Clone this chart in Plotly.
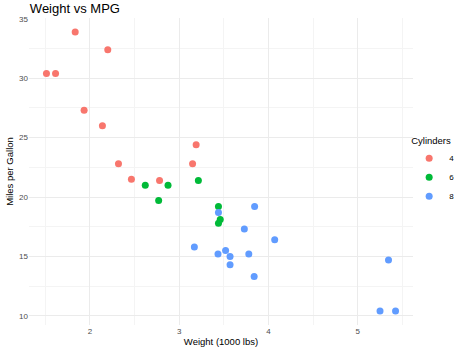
import plotly.graph_objects as go

# mtcars: weight (1000 lbs) and mpg by cylinders
wt_4 = [2.32, 3.19, 3.15, 2.2, 1.615, 1.835, 2.465, 1.935, 2.14, 1.513, 2.78]
mpg_4 = [22.8, 24.4, 22.8, 32.4, 30.4, 33.9, 21.5, 27.3, 26.0, 30.4, 21.4]
wt_6 = [2.62, 2.875, 3.215, 3.46, 3.44, 3.44, 2.77]
mpg_6 = [21.0, 21.0, 21.4, 18.1, 19.2, 17.8, 19.7]
wt_8 = [3.44, 3.57, 4.07, 3.73, 3.78, 5.25, 5.424, 5.345, 3.52, 3.435, 3.84, 3.845, 3.17, 3.57]
mpg_8 = [18.7, 14.3, 16.4, 17.3, 15.2, 10.4, 10.4, 14.7, 15.5, 15.2, 13.3, 19.2, 15.8, 15.0]

groups = [("4", wt_4, mpg_4, "#F8766D"), ("6", wt_6, mpg_6, "#00BA38"), ("8", wt_8, mpg_8, "#619CFF")]

FONT = "Liberation Sans, Arial, sans-serif"
fig = go.Figure()
for name, x, y, c in groups:
    fig.add_trace(go.Scatter(x=x, y=y, mode="markers", name=name,
                             marker=dict(color=c, size=7, line=dict(width=0))))

grid = "#ebebeb"
fig.update_layout(
    width=474, height=353,
    margin=dict(l=29, r=61, t=18, b=28, autoexpand=False),
    paper_bgcolor="white", plot_bgcolor="white",
    font=dict(family=FONT, color="#000000"),
    title=dict(text="Weight vs MPG", x=0.063, xanchor="left", y=0.977, yanchor="middle",
               font=dict(size=13, color="#000000", family=FONT)),
    legend=dict(title=dict(text="Cylinders", font=dict(size=9.5, color="#000000")),
                font=dict(size=8, color="#000000"),
                x=0.99, xanchor="left", y=0.50, yanchor="middle",
                itemwidth=30, bgcolor="rgba(0,0,0,0)"),
    showlegend=True,
)
fig.update_xaxes(range=[1.3175, 5.6195], tickvals=[2, 3, 4, 5], showgrid=True, gridcolor=grid, gridwidth=1,
                 minor=dict(tickvals=[1.5, 2.5, 3.5, 4.5, 5.5], showgrid=True, gridcolor="#f4f4f4", gridwidth=0.6),
                 zeroline=False, showline=False, ticks="",
                 tickfont=dict(size=8, color="#4d4d4d"),
                 title=dict(text="Weight (1000 lbs)", font=dict(size=9.5, color="#000000"), standoff=3))
fig.update_yaxes(range=[9.225, 35.075], tickvals=[10, 15, 20, 25, 30, 35], showgrid=True, gridcolor=grid, gridwidth=1,
                 minor=dict(tickvals=[12.5, 17.5, 22.5, 27.5, 32.5], showgrid=True, gridcolor="#f4f4f4", gridwidth=0.6),
                 zeroline=False, showline=False, ticks="",
                 tickfont=dict(size=8, color="#4d4d4d"),
                 title=dict(text="Miles per Gallon", font=dict(size=9.5, color="#000000"), standoff=3))

fig.write_html("out.html")
